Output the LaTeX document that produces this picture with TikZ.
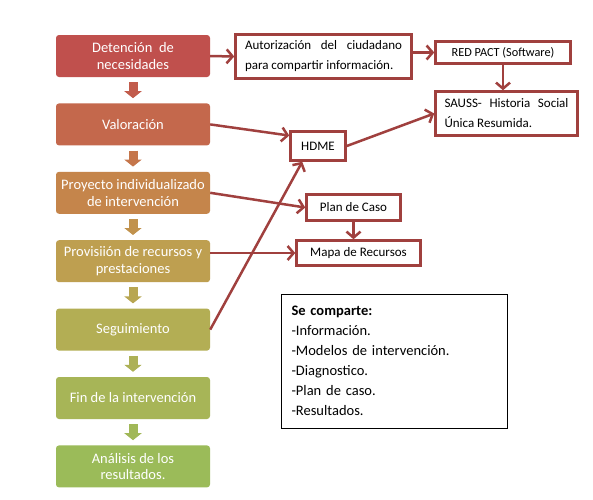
\documentclass[tikz,border=0pt]{standalone}
\usepackage{fontspec}
\setmainfont{Carlito}
\usetikzlibrary{positioning,arrows.meta,calc}
\definecolor{detcol}{HTML}{C0504D}
\definecolor{valcol}{HTML}{C4684C}
\definecolor{proycol}{HTML}{C5854B}
\definecolor{provcol}{HTML}{BE9F50}
\definecolor{segcol}{HTML}{B3AE54}
\definecolor{fincol}{HTML}{A7B557}
\definecolor{ancol}{HTML}{9BBB59}
\definecolor{linkcol}{HTML}{A0403E}

\begin{document}
\begin{tikzpicture}[
  x=1pt, y=-1pt,
  stepbox/.style={rounded corners=3pt, align=center, text=white,
                  minimum width=154pt, minimum height=42pt, inner sep=3pt,
                  font=\fontsize{14.5}{16.5}\selectfont},
  infobox/.style={draw=linkcol, line width=2.5pt, fill=white, align=left,
                  inner sep=3pt, font=\fontsize{13}{20}\selectfont},
  arr/.style={draw=linkcol, line width=2.5pt,
              -{Straight Barb[length=6pt,width=14pt]}},
  downarr/.style={line width=9pt, -{Triangle[length=7pt,width=17pt]},
                  shorten <=5pt, shorten >=5pt},
]
\path[use as bounding box, fill=white] (0,0) rectangle (593,499);

% ---------------------------------------------------------- process steps
\node[stepbox, fill=detcol] (det) at (133,56) {Detención\ \ de\\necesidades};
\node[stepbox, fill=valcol,  below=26pt of det]  (val)  {Valoración};
\node[stepbox, fill=proycol, below=26pt of val]  (proy) {Proyecto individualizado\\de intervención};
\node[stepbox, fill=provcol, below=26pt of proy] (prov) {Provisiión de recursos y\\prestaciones};
\node[stepbox, fill=segcol,  below=26pt of prov] (seg)  {Seguimiento};
\node[stepbox, fill=fincol,  below=26pt of seg]  (fin)  {Fin de la intervención};
\node[stepbox, fill=ancol,   below=26pt of fin]  (an)   {Análisis de los\\resultados.};

\draw[downarr, draw=detcol!50!valcol]  (det)  -- (val);
\draw[downarr, draw=valcol!50!proycol] (val)  -- (proy);
\draw[downarr, draw=proycol!50!provcol] (proy) -- (prov);
\draw[downarr, draw=provcol!50!segcol] (prov) -- (seg);
\draw[downarr, draw=segcol!50!fincol]  (seg)  -- (fin);
\draw[downarr, draw=fincol!50!ancol]   (fin)  -- (an);

% ---------------------------------------------------------- shared records
\node[infobox, minimum width=176pt, minimum height=44pt] (auth) at (323.5,56.5)
  {\makebox[157pt][s]{Autorización del ciudadano}\\para compartir información.};
\node[infobox, align=center, minimum width=135pt, minimum height=22pt,
      font=\fontsize{12.3}{14}\selectfont] (redpact) at (503,52.5)
  {RED PACT (Software)};
\node[infobox, minimum width=142pt, minimum height=44pt] (sauss) at (506.5,113.5)
  {\makebox[124pt][s]{SAUSS- Historia Social}\\Única Resumida.};
\node[infobox, align=center, minimum width=55pt, minimum height=29pt] (hdme) at (318,146)
  {HDME};
\node[infobox, align=center, minimum width=94pt, minimum height=26pt] (plan) at (353.5,207.5)
  {Plan de Caso};
\node[infobox, align=center, minimum width=124pt, minimum height=25pt] (mapa) at (358.5,253)
  {Mapa de Recursos};

\node[draw=black, line width=0.8pt, text width=205pt, inner xsep=10.5pt,
      minimum height=134pt, align=left, font=\fontsize{14.5}{20}\selectfont] (comp) at (394,361)
  {\textbf{Se comparte:}\\-Información.\\-Modelos de intervención.\\-Diagnostico.\\-Plan de caso.\\-Resultados.};

% ---------------------------------------------------------- links
\draw[arr] (det.east) -- (auth.west);
\draw[arr] (auth.east |- redpact.west) -- (redpact.west);
\draw[arr] (redpact.south) -- (redpact.south |- sauss.north);
\draw[arr] (val.east) -- (hdme.160);
\draw[arr] (hdme.east) -- (sauss.west);
\draw[arr] (proy.east) -- (plan.west);
\draw[arr] (plan.south) -- (plan.south |- mapa.north);
\draw[arr] (prov.east |- mapa.west) -- (mapa.west);
\draw[arr] (seg.east) -- (hdme.225);

\end{tikzpicture}
\end{document}
